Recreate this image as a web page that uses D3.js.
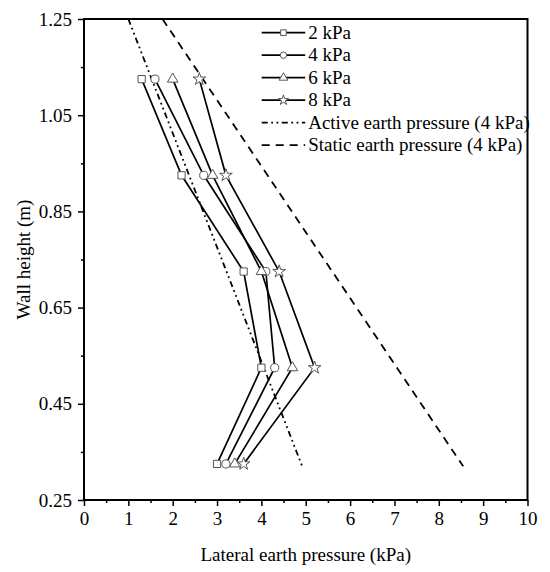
<!DOCTYPE html>
<html>
<head>
<meta charset="utf-8">
<script src="https://cdn.jsdelivr.net/npm/d3@7"></script>
<style>
  body { margin: 0; background: #fff; }
  svg { display: block; font-family: "Liberation Serif", "Times New Roman", serif; }
</style>
</head>
<body>
<svg id="chart"></svg>
<script>
// wall heights (m) where pressure was measured
const heights = [1.125, 0.925, 0.725, 0.525, 0.325];
// lateral earth pressure (kPa) per surcharge
const p2kPa = [1.3, 2.2, 3.6, 4.0, 3.0];
const p4kPa = [1.6, 2.7, 4.1, 4.3, 3.2];
const p6kPa = [2.0, 2.9, 4.0, 4.7, 3.4];
const p8kPa = [2.6, 3.2, 4.4, 5.2, 3.6];
// theoretical lines (4 kPa)
const activeX = [1.0, 4.92];
const activeY = [1.25, 0.32];
const staticX = [1.77, 8.55];
const staticY = [1.25, 0.32];

const xTicks = [0, 1, 2, 3, 4, 5, 6, 7, 8, 9, 10];
const xMinor = d3.range(0.5, 10, 1);
const yTicks = [0.25, 0.45, 0.65, 0.85, 1.05, 1.25];
const yMinor = [0.35, 0.55, 0.75, 0.95, 1.15];

const seriesNames = ["2 kPa", "4 kPa", "6 kPa", "8 kPa"];
const seriesVals = [p2kPa, p4kPa, p6kPa, p8kPa];
const symbols = [d3.symbolSquare, d3.symbolCircle, d3.symbolTriangle, d3.symbolStar];
const symSize = [52, 52, 48, 50];

const W = 550, H = 572;
const margin = { top: 19, right: 22.5, bottom: 72, left: 84 };
const width = W - margin.left - margin.right;
const height = H - margin.top - margin.bottom;

const svg = d3.select("#chart").attr("width", W).attr("height", H);
const chart = svg.append("g").attr("transform", `translate(${margin.left}, ${margin.top})`);

const x = d3.scaleLinear().domain([0, 10]).range([0, width]);
const y = d3.scaleLinear().domain([0.25, 1.25]).range([height, 0]);

chart.append("clipPath").attr("id", "clip")
  .append("rect").attr("width", width).attr("height", height);

// theoretical lines
const toPts = (xs, ys) => xs.map((v, i) => [v, ys[i]]);
const line2 = d3.line().x(d => x(d[0])).y(d => y(d[1]));

chart.append("path")
  .datum(toPts(activeX, activeY))
  .attr("clip-path", "url(#clip)")
  .attr("d", line2)
  .attr("fill", "none")
  .attr("stroke", "#000")
  .attr("stroke-width", 1.8)
  .attr("stroke-dasharray", "6,3.5,1.8,3.5,1.8,3.5");

chart.append("path")
  .datum(toPts(staticX, staticY))
  .attr("clip-path", "url(#clip)")
  .attr("d", line2)
  .attr("fill", "none")
  .attr("stroke", "#000")
  .attr("stroke-width", 1.8)
  .attr("stroke-dasharray", "8,6");

// measured series
seriesVals.forEach((vals, i) => {
  const pts = toPts(vals, heights);
  chart.append("path")
    .datum(pts)
    .attr("d", line2)
    .attr("fill", "none")
    .attr("stroke", "#000")
    .attr("stroke-width", 1.7);
});
seriesVals.forEach((vals, i) => {
  chart.selectAll(null)
    .data(toPts(vals, heights))
    .join("path")
    .attr("transform", d => `translate(${x(d[0])}, ${y(d[1])})`)
    .attr("d", d3.symbol().type(symbols[i]).size(symSize[i]))
    .attr("fill", "#fff")
    .attr("stroke", "#555")
    .attr("stroke-width", 1);
});

// axes
const fontSize = 19;
const xAxis = chart.append("g")
  .attr("transform", `translate(0, ${height})`)
  .call(d3.axisBottom(x).tickValues(xTicks).tickSize(6).tickSizeOuter(0).tickPadding(6).tickFormat(d3.format("d")));
const xAxisMinor = chart.append("g")
  .attr("transform", `translate(0, ${height})`)
  .call(d3.axisBottom(x).tickValues(xMinor).tickSize(3).tickSizeOuter(0).tickFormat(""));
const yAxis = chart.append("g")
  .call(d3.axisLeft(y).tickValues(yTicks).tickSize(6).tickSizeOuter(0).tickPadding(6).tickFormat(d3.format(".2f")));
const yAxisMinor = chart.append("g")
  .call(d3.axisLeft(y).tickValues(yMinor).tickSize(3).tickSizeOuter(0).tickFormat(""));

[xAxis, xAxisMinor, yAxis, yAxisMinor].forEach(g => {
  g.select(".domain").remove();
  g.selectAll(".tick line").attr("stroke", "#000").attr("stroke-width", 1.5);
  g.selectAll(".tick text")
    .attr("font-family", "'Liberation Serif', 'Times New Roman', serif")
    .attr("font-size", fontSize)
    .attr("fill", "#000");
});

// frame
chart.append("rect")
  .attr("width", width)
  .attr("height", height)
  .attr("fill", "none")
  .attr("stroke", "#000")
  .attr("stroke-width", 2);

// axis titles
chart.append("text")
  .attr("x", width / 2)
  .attr("y", height + 61)
  .attr("text-anchor", "middle")
  .attr("font-size", fontSize)
  .text("Lateral earth pressure (kPa)");

chart.append("text")
  .attr("transform", "rotate(-90)")
  .attr("x", -height / 2)
  .attr("y", -54)
  .attr("text-anchor", "middle")
  .attr("font-size", fontSize)
  .text("Wall height (m)");

// legend
const legX = 261.7 - margin.left;
const legY = 32.7 - margin.top;
const legGap = 22.5;
const legLen = 43.5;

const legItems = seriesNames.map((name, i) => ({ name, sym: symbols[i], dash: null }))
  .concat([
    { name: "Active earth pressure (4 kPa)", sym: null, dash: "6,3.5,1.8,3.5,1.8,3.5" },
    { name: "Static earth pressure (4 kPa)", sym: null, dash: "8,6" }
  ]);

legItems.forEach((item, i) => {
  const ly = legY + i * legGap;
  chart.append("line")
    .attr("x1", legX)
    .attr("x2", legX + legLen)
    .attr("y1", ly)
    .attr("y2", ly)
    .attr("stroke", "#000")
    .attr("stroke-width", 1.7)
    .attr("stroke-dasharray", item.dash);
  if (item.sym) {
    chart.append("path")
      .attr("transform", `translate(${legX + legLen / 2}, ${ly})`)
      .attr("d", d3.symbol().type(item.sym).size(32))
      .attr("fill", "#fff")
      .attr("stroke", "#555")
      .attr("stroke-width", 1);
  }
  chart.append("text")
    .attr("x", legX + legLen + 3)
    .attr("y", ly)
    .attr("dy", "0.33em")
    .attr("font-size", fontSize)
    .text(item.name);
});
</script>
</body>
</html>
